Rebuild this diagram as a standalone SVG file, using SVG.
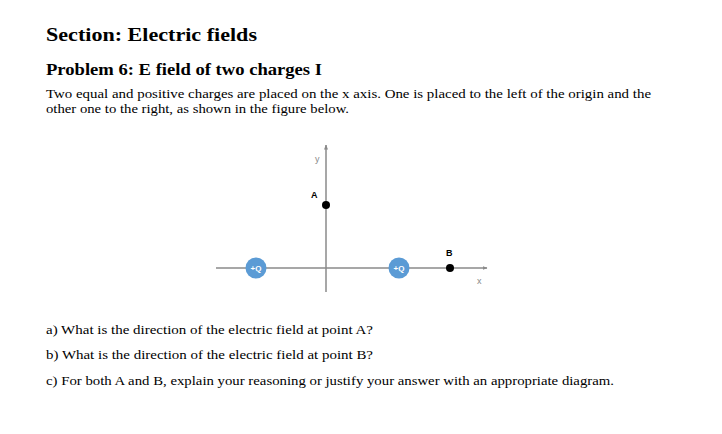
<svg xmlns="http://www.w3.org/2000/svg" width="722" height="434" viewBox="0 0 722 434">
<style>
.t{font-family:"Liberation Serif",serif;fill:#000}
.b{font-size:13px}
.ax{stroke:#8a8a8a;stroke-width:1.5}
.lab{font-family:"Liberation Sans",sans-serif;font-size:9px;fill:#888}
.pt{font-family:"Liberation Sans",sans-serif;font-size:9px;font-weight:bold;fill:#000}
.q{font-family:"Liberation Sans",sans-serif;font-size:8px;font-weight:bold;fill:#fff}
</style>
<defs><marker id="ar" markerUnits="userSpaceOnUse" markerWidth="5" markerHeight="5" refX="4.5" refY="2.5" orient="auto"><path d="M0,0.5 L5,2.5 L0,4.5z" fill="#8a8a8a"/></marker></defs>
<rect width="722" height="434" fill="#fff"/>
<text class="t" x="46" y="41" font-size="19" font-weight="bold" textLength="211" lengthAdjust="spacingAndGlyphs">Section: Electric fields</text>
<text class="t" x="46" y="75" font-size="16" font-weight="bold" textLength="276" lengthAdjust="spacingAndGlyphs">Problem 6: E field of two charges I</text>
<text class="t b" x="46" y="98" textLength="605" lengthAdjust="spacingAndGlyphs">Two equal and positive charges are placed on the x axis. One is placed to the left of the origin and the</text>
<text class="t b" x="46" y="113" textLength="303" lengthAdjust="spacingAndGlyphs">other one to the right, as shown in the figure below.</text>
<g id="connectors">
<line class="ax" x1="216" y1="268" x2="487" y2="268" marker-end="url(#ar)"/>
<line class="ax" x1="326" y1="292" x2="326" y2="145" marker-end="url(#ar)"/>
</g>
<text class="lab" x="315" y="162">y</text>
<text class="lab" x="477" y="284">x</text>
<g id="chargeL"><circle cx="256" cy="268" r="10.5" fill="#5b9bd5"/><text class="q" x="256" y="271" text-anchor="middle">+Q</text></g>
<g id="chargeR"><circle cx="399" cy="268" r="10.5" fill="#5b9bd5"/><text class="q" x="399" y="271" text-anchor="middle">+Q</text></g>
<g id="A"><circle cx="326" cy="205" r="4" fill="#000"/><text class="pt" x="311" y="198">A</text></g>
<g id="B"><circle cx="450" cy="268" r="4" fill="#000"/><text class="pt" x="446" y="256">B</text></g>
<text class="t b" x="46" y="334" textLength="327" lengthAdjust="spacingAndGlyphs">a) What is the direction of the electric field at point A?</text>
<text class="t b" x="46" y="359" textLength="327" lengthAdjust="spacingAndGlyphs">b) What is the direction of the electric field at point B?</text>
<text class="t b" x="46" y="385" textLength="568" lengthAdjust="spacingAndGlyphs">c) For both A and B, explain your reasoning or justify your answer with an appropriate diagram.</text>
</svg>
